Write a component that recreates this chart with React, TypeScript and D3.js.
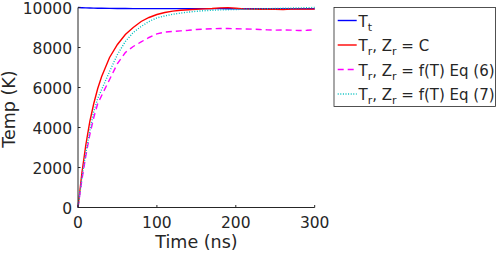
import React from "react";
import * as d3 from "d3";

const times = [0, 5, 10, 15, 20, 25, 30, 40, 50, 60, 70, 80, 90, 100, 110, 120, 130, 140, 150, 160, 170, 180, 190, 200, 210, 220, 230, 240, 250, 260, 270, 280, 290, 300];
const tT = [10000, 9990, 9980, 9975, 9970, 9965, 9960, 9955, 9950, 9948, 9946, 9945, 9945, 9944, 9944, 9943, 9943, 9943, 9942, 9942, 9942, 9942, 9941, 9941, 9941, 9941, 9940, 9940, 9940, 9940, 9940, 9940, 9940, 9940];
const trConst = [0, 1750, 3150, 4300, 5200, 5950, 6550, 7500, 8150, 8650, 9000, 9300, 9500, 9650, 9750, 9820, 9860, 9890, 9910, 9930, 9950, 9980, 9995, 9960, 9930, 9920, 9910, 9920, 9910, 9900, 9920, 9920, 9920, 9920];
const trEq6 = [0, 1400, 2600, 3650, 4500, 5200, 5600, 6400, 7200, 7750, 8050, 8280, 8500, 8680, 8770, 8800, 8830, 8860, 8900, 8920, 8940, 8950, 8950, 8940, 8930, 8920, 8900, 8880, 8870, 8880, 8870, 8850, 8860, 8880];
const trEq7 = [0, 1500, 2750, 3850, 4800, 5450, 5900, 6800, 7650, 8300, 8750, 9050, 9300, 9480, 9580, 9660, 9720, 9770, 9810, 9840, 9860, 9880, 9890, 9900, 9910, 9920, 9930, 9940, 9950, 9960, 9970, 9980, 9990, 10000];

const xTicks = [0, 100, 200, 300];
const yTicks = [0, 2000, 4000, 6000, 8000, 10000];

const FONT = "'DejaVu Sans', sans-serif";
const AX = "#262626";

type Series = { values: number[]; color: string; dash?: string; parts: { t: string; sub?: boolean }[] };

const series: Series[] = [
  { values: tT, color: "#0000ff", parts: [{ t: "T" }, { t: "t", sub: true }] },
  { values: trConst, color: "#ff0000", parts: [{ t: "T" }, { t: "r", sub: true }, { t: ", Z" }, { t: "r", sub: true }, { t: " = C" }] },
  { values: trEq6, color: "#ff00ff", dash: "6,4", parts: [{ t: "T" }, { t: "r", sub: true }, { t: ", Z" }, { t: "r", sub: true }, { t: " = f(T) Eq (6)" }] },
  { values: trEq7, color: "#00bfbf", dash: "1,1.6", parts: [{ t: "T" }, { t: "r", sub: true }, { t: ", Z" }, { t: "r", sub: true }, { t: " = f(T) Eq (7)" }] },
];

export default function App() {
  const x = d3.scaleLinear().domain([0, 300]).range([78, 314.7]);
  const y = d3.scaleLinear().domain([0, 10000]).range([207.5, 7.5]);

  const lineFor = (vals: number[]) =>
    d3.line<number>().x((_, i) => x(times[i])).y((d) => y(d))(vals) || "";

  const legX = 334;
  const legY = 7.5;
  const legW = 161.5;
  const legH = 99;
  const rowY = [20.5, 45, 69.5, 94];

  return (
    <svg width={500} height={254} style={{ position: "fixed", left: 0, top: 0, background: "#fff" }} fontFamily={FONT}>
      <rect x={0} y={0} width={500} height={254} fill="#fff" />
      {series.map((s, i) => (
        <path key={i} d={lineFor(s.values)} fill="none" stroke={s.color} strokeWidth={1.4} strokeDasharray={s.dash} />
      ))}
      <line x1={x(0)} x2={x(300)} y1={y(0)} y2={y(0)} stroke={AX} strokeWidth={1} />
      <line x1={x(0)} x2={x(0)} y1={y(0)} y2={y(10000)} stroke={AX} strokeWidth={1} />
      {xTicks.map((t) => (
        <g key={"x" + t}>
          <line x1={x(t)} x2={x(t)} y1={y(0)} y2={y(0) - 2.5} stroke={AX} />
          <text x={x(t)} y={228} textAnchor="middle" fontSize={15.5} fill={AX}>{t}</text>
        </g>
      ))}
      {yTicks.map((t) => (
        <g key={"y" + t}>
          <line x1={x(0)} x2={x(0) + 2.5} y1={y(t)} y2={y(t)} stroke={AX} />
          <text x={72} y={y(t) + 6.3} textAnchor="end" fontSize={15.5} fill={AX}>{t}</text>
        </g>
      ))}
      <text x={196.5} y={248} textAnchor="middle" fontSize={17.5} fill={AX}>Time (ns)</text>
      <text transform={`translate(15,109) rotate(-90)`} textAnchor="middle" fontSize={17.5} fill={AX}>Temp (K)</text>
      <rect x={legX} y={legY} width={legW} height={legH} fill="#fff" stroke={AX} strokeWidth={0.8} />
      {series.map((s, i) => (
        <g key={"l" + i}>
          <line x1={337.7} x2={356.7} y1={rowY[i]} y2={rowY[i]} stroke={s.color} strokeWidth={1.4} strokeDasharray={s.dash} />
          <text x={358.5} y={rowY[i] + 6} fontSize={15} fill={AX}>
            {s.parts.map((p, j) =>
              p.sub ? (
                <tspan key={j} fontSize={11} dy={4}>{p.t}</tspan>
              ) : (
                <tspan key={j} dy={j > 0 && s.parts[j - 1].sub ? -4 : 0}>{p.t}</tspan>
              )
            )}
          </text>
        </g>
      ))}
    </svg>
  );
}
